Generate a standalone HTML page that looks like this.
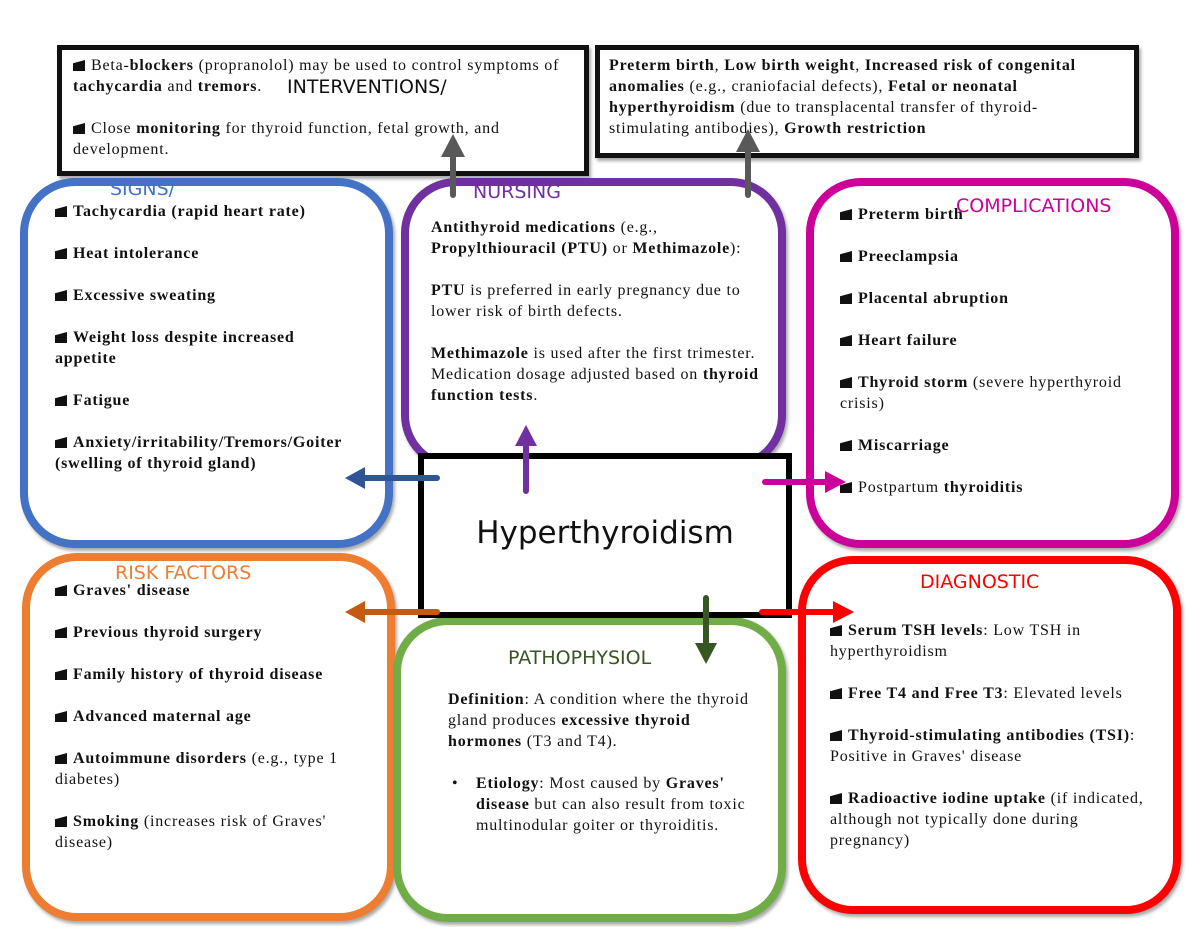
<!DOCTYPE html>
<html><head><meta charset="utf-8"><style>
body{margin:0;width:1200px;height:927px;background:#fff;position:relative;overflow:hidden;font-family:"Liberation Serif",serif;font-size:16px;letter-spacing:0.8px;color:#111}
.b{position:absolute;box-sizing:border-box;background:#fff;box-shadow:2px 3px 3px #aaa}
.t{position:absolute;line-height:21px}
.h{position:absolute;font-family:"DejaVu Sans","Liberation Sans",sans-serif;font-size:19px;letter-spacing:0;font-weight:normal;white-space:nowrap}
.i{display:inline-block;width:12px;height:11px;background:#111;margin-right:6px;vertical-align:-1px;clip-path:polygon(0 30%,100% 0,100% 100%,0 100%)}
p{margin:0 0 21px 0}
svg{position:absolute;left:0;top:0}
</style></head><body>

<div class="b" style="left:57px;top:45px;width:532px;height:131px;border:5px solid #111"></div>
<div class="t" style="left:73px;top:55px;width:505px">
<p><span class="i"></span>Beta-<b>blockers</b> (propranolol) may be used to control symptoms of <b>tachycardia</b> and <b>tremors</b>.</p>
<p><span class="i"></span>Close <b>monitoring</b> for thyroid function, fetal growth, and development.</p></div>
<div class="h" style="left:287px;top:76px;color:#111">INTERVENTIONS/</div>

<div class="b" style="left:595px;top:45px;width:544px;height:113px;border:5px solid #111"></div>
<div class="t" style="left:609px;top:55px;width:485px"><b>Preterm birth</b>, <b>Low birth weight</b>, <b>Increased risk of congenital anomalies</b> (e.g., craniofacial defects), <b>Fetal or neonatal hyperthyroidism</b> (due to transplacental transfer of thyroid-stimulating antibodies), <b>Growth restriction</b></div>

<div class="b" style="left:20px;top:178px;width:373px;height:370px;border:8px solid #4472c4;border-radius:55px"></div>
<div class="h" style="left:110px;top:178px;color:#4472c4">SIGNS/</div>
<div class="t" style="left:55px;top:201px;width:290px;font-weight:bold">
<p><span class="i"></span>Tachycardia (rapid heart rate)</p>
<p><span class="i"></span>Heat intolerance</p>
<p><span class="i"></span>Excessive sweating</p>
<p><span class="i"></span>Weight loss despite increased appetite</p>
<p><span class="i"></span>Fatigue</p>
<p><span class="i"></span>Anxiety/irritability/Tremors/Goiter (swelling of thyroid gland)</p></div>

<div class="b" style="left:401px;top:178px;width:385px;height:292px;border:8px solid #7030a0;border-radius:55px"></div>
<div class="h" style="left:473px;top:181px;color:#7030a0">NURSING</div>
<div class="t" style="left:431px;top:217px;width:335px">
<p><b>Antithyroid medications</b> (e.g., <b>Propylthiouracil (PTU)</b> or <b>Methimazole</b>):</p>
<p><b>PTU</b> is preferred in early pregnancy due to lower risk of birth defects.</p>
<p><b>Methimazole</b> is used after the first trimester. Medication dosage adjusted based on <b>thyroid function tests</b>.</p></div>

<div class="b" style="left:806px;top:178px;width:373px;height:370px;border:8px solid #cc0099;border-radius:55px"></div>
<div class="t" style="left:840px;top:204px;width:310px">
<p><span class="i"></span><b>Preterm birth</b></p>
<p><span class="i"></span><b>Preeclampsia</b></p>
<p><span class="i"></span><b>Placental abruption</b></p>
<p><span class="i"></span><b>Heart failure</b></p>
<p><span class="i"></span><b>Thyroid storm</b> (severe hyperthyroid crisis)</p>
<p><span class="i"></span><b>Miscarriage</b></p>
<p><span class="i"></span>Postpartum <b>thyroiditis</b></p></div>
<div class="h" style="left:956px;top:195px;color:#cc0099">COMPLICATIONS</div>

<div class="b" style="left:22px;top:553px;width:373px;height:368px;border:8px solid #ed7d31;border-radius:55px"></div>
<div class="h" style="left:115px;top:562px;color:#ed7d31">RISK FACTORS</div>
<div class="t" style="left:55px;top:580px;width:305px">
<p><span class="i"></span><b>Graves' disease</b></p>
<p><span class="i"></span><b>Previous thyroid surgery</b></p>
<p><span class="i"></span><b>Family history of thyroid disease</b></p>
<p><span class="i"></span><b>Advanced maternal age</b></p>
<p><span class="i"></span><b>Autoimmune disorders</b> (e.g., type 1 diabetes)</p>
<p><span class="i"></span><b>Smoking</b> (increases risk of Graves' disease)</p></div>

<div class="b" style="left:393px;top:617px;width:393px;height:305px;border:8px solid #70ad47;border-radius:55px"></div>
<div class="h" style="left:508px;top:647px;color:#375623">PATHOPHYSIOL</div>
<div class="t" style="left:448px;top:689px;width:315px">
<p><b>Definition</b>: A condition where the thyroid gland produces <b>excessive thyroid hormones</b> (T3 and T4).</p>
<div style="padding-left:28px;position:relative"><span style="position:absolute;left:4px">•</span><b>Etiology</b>: Most caused by <b>Graves' disease</b> but can also result from toxic multinodular goiter or thyroiditis.</div></div>

<div class="b" style="left:798px;top:556px;width:383px;height:358px;border:8px solid #ff0000;border-radius:55px"></div>
<div class="h" style="left:920px;top:571px;color:#ff0000">DIAGNOSTIC</div>
<div class="t" style="left:830px;top:620px;width:325px">
<p><span class="i"></span><b>Serum TSH levels</b>: Low TSH in hyperthyroidism</p>
<p><span class="i"></span><b>Free T4 and Free T3</b>: Elevated levels</p>
<p><span class="i"></span><b>Thyroid-stimulating antibodies (TSI)</b>: Positive in Graves' disease</p>
<p><span class="i"></span><b>Radioactive iodine uptake</b> (if indicated, although not typically done during pregnancy)</p></div>

<div class="b" style="left:418px;top:453px;width:374px;height:165px;border:6px solid #000;box-shadow:none;background:#fff"></div>
<div style="position:absolute;left:418px;top:515px;width:374px;text-align:center;font-family:'DejaVu Sans','Liberation Sans',sans-serif;font-size:31px;letter-spacing:0">Hyperthyroidism</div>

<svg width="1200" height="927">
<g stroke-width="6" stroke-linecap="round">
<line x1="453" y1="195" x2="453" y2="155" stroke="#595959"/><polygon points="441,157 465,157 453,134" fill="#595959"/>
<line x1="748" y1="195" x2="748" y2="150" stroke="#595959"/><polygon points="736,152 760,152 748,129" fill="#595959"/>
<line x1="437" y1="478" x2="362" y2="478" stroke="#2f5597"/><polygon points="365,467 365,489 345,478" fill="#2f5597"/>
<line x1="526" y1="491" x2="526" y2="443" stroke="#7030a0"/><polygon points="515,446 537,446 526,425" fill="#7030a0"/>
<line x1="765" y1="482" x2="828" y2="482" stroke="#cc0099"/><polygon points="825,471 825,493 846,482" fill="#cc0099"/>
<line x1="437" y1="612" x2="362" y2="612" stroke="#c55a11"/><polygon points="365,601 365,623 345,612" fill="#c55a11"/>
<line x1="706" y1="598" x2="706" y2="645" stroke="#375623"/><polygon points="695,643 717,643 706,664" fill="#375623"/>
<line x1="762" y1="612" x2="836" y2="612" stroke="#ff0000"/><polygon points="833,601 833,623 854,612" fill="#ff0000"/>
</g></svg>
</body></html>
